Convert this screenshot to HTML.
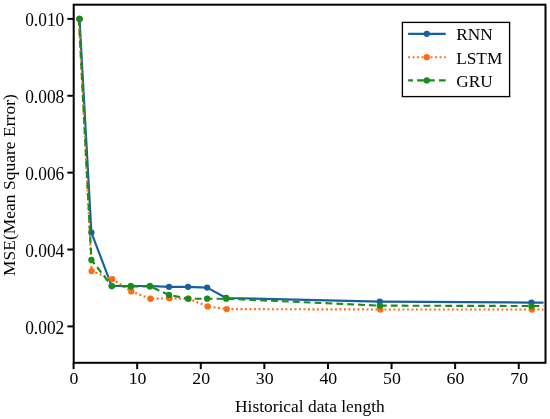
<!DOCTYPE html>
<html lang="en"><head><meta charset="utf-8"><title>MSE vs Historical data length</title>
<style>html,body{margin:0;padding:0;background:#fff}body{width:550px;height:419px;overflow:hidden}</style></head>
<body>
<svg width="550" height="419" viewBox="0 0 550 419" style="display:block">
<rect width="550" height="419" fill="#fff"/>
<defs><clipPath id="c"><rect x="73.7" y="4.7" width="469.8" height="358.1"/></clipPath></defs>
<g clip-path="url(#c)"><polyline points="79.51,18.88 91.41,232.61 111.75,286.04 130.83,286.04 149.91,286.04 168.99,286.81 188.06,286.81 207.14,287.58 226.22,297.95 379.79,301.61 531.45,302.57 684.06,302.95" fill="none" stroke="#17609f" stroke-width="2.15" stroke-linejoin="round"/><circle cx="79.51" cy="18.88" r="3.15" fill="#17609f"/><circle cx="91.41" cy="232.61" r="3.15" fill="#17609f"/><circle cx="111.75" cy="286.04" r="3.15" fill="#17609f"/><circle cx="130.83" cy="286.04" r="3.15" fill="#17609f"/><circle cx="149.91" cy="286.04" r="3.15" fill="#17609f"/><circle cx="168.99" cy="286.81" r="3.15" fill="#17609f"/><circle cx="188.06" cy="286.81" r="3.15" fill="#17609f"/><circle cx="207.14" cy="287.58" r="3.15" fill="#17609f"/><circle cx="226.22" cy="297.95" r="3.15" fill="#17609f"/><circle cx="379.79" cy="301.61" r="3.15" fill="#17609f"/><circle cx="531.45" cy="302.57" r="3.15" fill="#17609f"/><circle cx="684.06" cy="302.95" r="3.15" fill="#17609f"/></g>
<g clip-path="url(#c)"><polyline points="78.86,18.88 91.66,271.05 112.25,279.12 131.33,291.42 150.41,298.72 169.49,298.34 188.56,298.72 207.64,306.41 226.72,309.10 380.29,309.49 531.95,309.49 684.56,309.49" fill="none" stroke="#ff6a14" stroke-width="2.15" stroke-linejoin="round" stroke-dasharray="1.9 2.6" stroke-dashoffset="0"/><circle cx="79.51" cy="18.88" r="3.15" fill="#ff6a14"/><circle cx="91.66" cy="271.05" r="3.15" fill="#ff6a14"/><circle cx="112.25" cy="279.12" r="3.15" fill="#ff6a14"/><circle cx="131.33" cy="291.42" r="3.15" fill="#ff6a14"/><circle cx="150.41" cy="298.72" r="3.15" fill="#ff6a14"/><circle cx="169.49" cy="298.34" r="3.15" fill="#ff6a14"/><circle cx="188.56" cy="298.72" r="3.15" fill="#ff6a14"/><circle cx="207.64" cy="306.41" r="3.15" fill="#ff6a14"/><circle cx="226.72" cy="309.10" r="3.15" fill="#ff6a14"/><circle cx="380.29" cy="309.49" r="3.15" fill="#ff6a14"/><circle cx="531.95" cy="309.49" r="3.15" fill="#ff6a14"/><circle cx="684.56" cy="309.49" r="3.15" fill="#ff6a14"/></g>
<g clip-path="url(#c)"><polyline points="78.91,18.88 91.41,259.90 111.75,286.04 130.83,286.42 149.91,286.42 168.99,294.88 188.06,298.72 207.14,298.72 226.22,298.72 379.79,305.64 531.45,306.03 684.06,306.03" fill="none" stroke="#1a8c1a" stroke-width="2.15" stroke-linejoin="round" stroke-dasharray="6.8 4.1" stroke-dashoffset="0"/><circle cx="79.51" cy="18.88" r="3.15" fill="#1a8c1a"/><circle cx="91.41" cy="259.90" r="3.15" fill="#1a8c1a"/><circle cx="111.75" cy="286.04" r="3.15" fill="#1a8c1a"/><circle cx="130.83" cy="286.42" r="3.15" fill="#1a8c1a"/><circle cx="149.91" cy="286.42" r="3.15" fill="#1a8c1a"/><circle cx="168.99" cy="294.88" r="3.15" fill="#1a8c1a"/><circle cx="188.06" cy="298.72" r="3.15" fill="#1a8c1a"/><circle cx="207.14" cy="298.72" r="3.15" fill="#1a8c1a"/><circle cx="226.22" cy="298.72" r="3.15" fill="#1a8c1a"/><circle cx="379.79" cy="305.64" r="3.15" fill="#1a8c1a"/><circle cx="531.45" cy="306.03" r="3.15" fill="#1a8c1a"/><circle cx="684.06" cy="306.03" r="3.15" fill="#1a8c1a"/></g>
<rect x="73.7" y="4.7" width="471.8" height="358.1" fill="none" stroke="#000" stroke-width="2"/>
<line x1="73.60" y1="362.8" x2="73.60" y2="369.1" stroke="#000" stroke-width="2"/>
<text transform="translate(74.00,384.1) scale(1.02,0.98)" text-anchor="middle" font-family="Liberation Serif, serif" font-size="17.5">0</text>
<line x1="137.19" y1="362.8" x2="137.19" y2="369.1" stroke="#000" stroke-width="2"/>
<text transform="translate(137.59,384.1) scale(1.02,0.98)" text-anchor="middle" font-family="Liberation Serif, serif" font-size="17.5">10</text>
<line x1="200.78" y1="362.8" x2="200.78" y2="369.1" stroke="#000" stroke-width="2"/>
<text transform="translate(201.18,384.1) scale(1.02,0.98)" text-anchor="middle" font-family="Liberation Serif, serif" font-size="17.5">20</text>
<line x1="264.37" y1="362.8" x2="264.37" y2="369.1" stroke="#000" stroke-width="2"/>
<text transform="translate(264.77,384.1) scale(1.02,0.98)" text-anchor="middle" font-family="Liberation Serif, serif" font-size="17.5">30</text>
<line x1="327.96" y1="362.8" x2="327.96" y2="369.1" stroke="#000" stroke-width="2"/>
<text transform="translate(328.36,384.1) scale(1.02,0.98)" text-anchor="middle" font-family="Liberation Serif, serif" font-size="17.5">40</text>
<line x1="391.55" y1="362.8" x2="391.55" y2="369.1" stroke="#000" stroke-width="2"/>
<text transform="translate(391.95,384.1) scale(1.02,0.98)" text-anchor="middle" font-family="Liberation Serif, serif" font-size="17.5">50</text>
<line x1="455.14" y1="362.8" x2="455.14" y2="369.1" stroke="#000" stroke-width="2"/>
<text transform="translate(455.54,384.1) scale(1.02,0.98)" text-anchor="middle" font-family="Liberation Serif, serif" font-size="17.5">60</text>
<line x1="518.73" y1="362.8" x2="518.73" y2="369.1" stroke="#000" stroke-width="2"/>
<text transform="translate(519.13,384.1) scale(1.02,0.98)" text-anchor="middle" font-family="Liberation Serif, serif" font-size="17.5">70</text>
<line x1="73.7" y1="326.40" x2="67.4" y2="326.40" stroke="#000" stroke-width="2"/>
<text transform="translate(64.3,333.70) scale(1,1.03)" text-anchor="end" font-family="Liberation Serif, serif" font-size="17.4">0.002</text>
<line x1="73.7" y1="249.52" x2="67.4" y2="249.52" stroke="#000" stroke-width="2"/>
<text transform="translate(64.3,256.82) scale(1,1.03)" text-anchor="end" font-family="Liberation Serif, serif" font-size="17.4">0.004</text>
<line x1="73.7" y1="172.64" x2="67.4" y2="172.64" stroke="#000" stroke-width="2"/>
<text transform="translate(64.3,179.94) scale(1,1.03)" text-anchor="end" font-family="Liberation Serif, serif" font-size="17.4">0.006</text>
<line x1="73.7" y1="95.76" x2="67.4" y2="95.76" stroke="#000" stroke-width="2"/>
<text transform="translate(64.3,103.06) scale(1,1.03)" text-anchor="end" font-family="Liberation Serif, serif" font-size="17.4">0.008</text>
<line x1="73.7" y1="18.88" x2="67.4" y2="18.88" stroke="#000" stroke-width="2"/>
<text transform="translate(64.3,26.18) scale(1,1.03)" text-anchor="end" font-family="Liberation Serif, serif" font-size="17.4">0.010</text>
<text x="309.9" y="411.9" text-anchor="middle" font-family="Liberation Serif, serif" font-size="17.4">Historical data length</text>
<text transform="translate(15.3,185.1) rotate(-90)" text-anchor="middle" textLength="181.8" lengthAdjust="spacing" font-family="Liberation Serif, serif" font-size="17.4">MSE(Mean Square Error)</text>
<rect x="402.4" y="22.4" width="107.2" height="74.2" fill="#fff" stroke="#000" stroke-width="1.35"/>
<line x1="408.1" y1="33.8" x2="445.7" y2="33.8" stroke="#17609f" stroke-width="2.15"/>
<circle cx="426.8" cy="33.8" r="3.15" fill="#17609f"/>
<text x="456.2" y="40.40" font-family="Liberation Serif, serif" font-size="17.3">RNN</text>
<line x1="408.1" y1="57.2" x2="445.7" y2="57.2" stroke="#ff6a14" stroke-width="2.15" stroke-dasharray="1.9 2.6" stroke-dashoffset="0"/>
<circle cx="426.8" cy="57.2" r="3.15" fill="#ff6a14"/>
<text x="456.2" y="63.80" font-family="Liberation Serif, serif" font-size="17.3">LSTM</text>
<line x1="408.1" y1="80.4" x2="445.7" y2="80.4" stroke="#1a8c1a" stroke-width="2.15" stroke-dasharray="6.8 4.1" stroke-dashoffset="1.9"/>
<circle cx="426.8" cy="80.4" r="3.15" fill="#1a8c1a"/>
<text x="456.2" y="87.00" font-family="Liberation Serif, serif" font-size="17.3">GRU</text>
</svg>
</body></html>
